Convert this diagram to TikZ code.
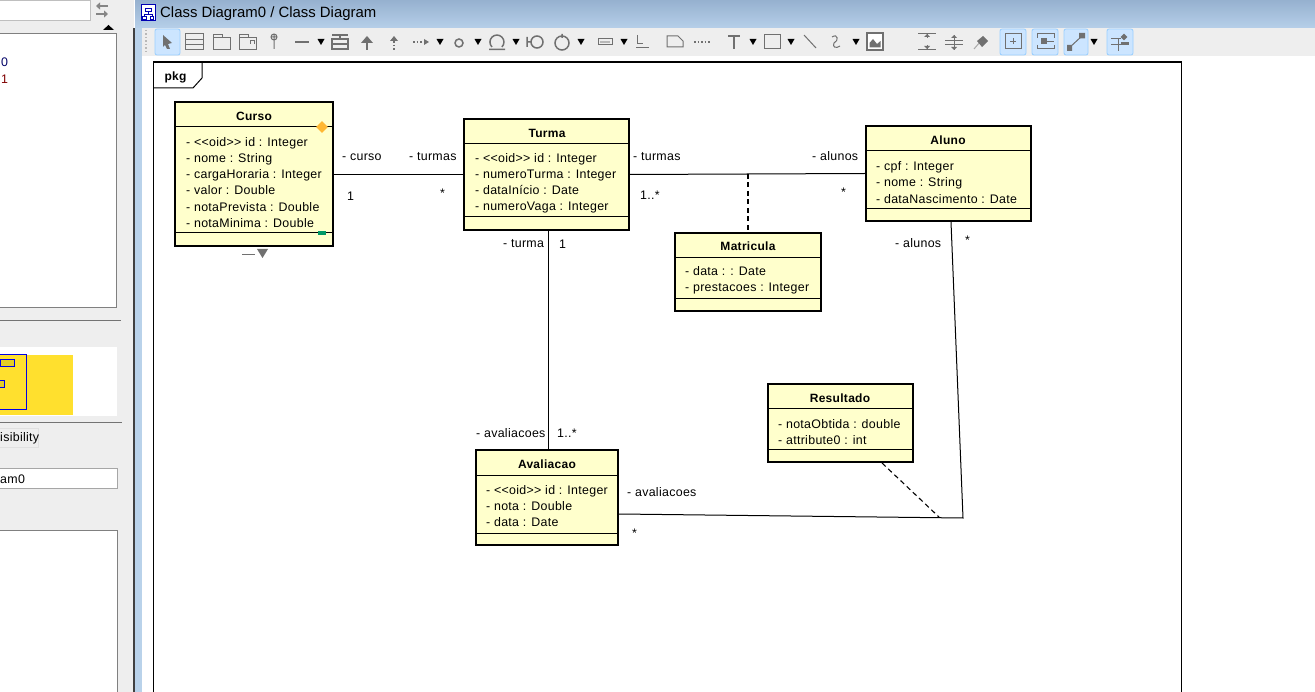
\documentclass[tikz,border=0pt]{standalone}
\usepackage{fontspec}
\setmainfont{Liberation Sans}[LetterSpace=2.5]
\newfontfamily\titlefont{Liberation Sans}
\usetikzlibrary{positioning,shapes.geometric,arrows.meta}
\definecolor{panelgray}{HTML}{EEEEEE}
\definecolor{boxyellow}{HTML}{FFFFCC}
\definecolor{iconblue}{HTML}{CCE5FF}
\definecolor{iconedge}{HTML}{99CFFF}
\definecolor{icongray}{HTML}{707070}
\definecolor{bartop}{HTML}{96B1CF}
\definecolor{barbottom}{HTML}{B6CFE9}
\definecolor{stripblue}{HTML}{B9D2EA}
\definecolor{navyellow}{HTML}{FFE02E}
\definecolor{cursomarkorange}{HTML}{FFB833}
\definecolor{cursomarkgreen}{HTML}{009966}
\tikzset{
    classbox/.style={draw,line width=2pt,fill=boxyellow,inner sep=0pt},
    classname/.style={font=\fontsize{12}{12}\selectfont\bfseries,inner sep=0pt},
    attrs/.style={font=\fontsize{12.4}{16.1}\selectfont,align=left,anchor=west,inner sep=0pt},
    rolelabel/.style={font=\fontsize{12.4}{12.4}\selectfont,anchor=west,inner sep=0pt},
    assoc/.style={line width=1pt},
    assocdash/.style={line width=1.1pt,dash pattern=on 5pt off 3.5pt},
    icon/.style={draw=icongray,line width=1pt},
    iconbtn/.style={draw=iconedge,fill=iconblue,rounded corners=2pt,line width=.8pt}
}
\begin{document}
\begin{tikzpicture}[x=1pt,y=-1pt]
    \useasboundingbox (0,0) rectangle (1315,692);
    % window
    \fill[white] (0,0) rectangle (1315,692);
    \fill[panelgray] (0,0) rectangle (134,692);
    \fill[panelgray] (142,28) rectangle (1315,56);
    \shade[top color=bartop,bottom color=barbottom] (135,0) rectangle (1315,28);
    \fill[stripblue] (135,28) rectangle (142,692);
    \fill[black!75] (133,28) rectangle (135,692);
    % left side
    \draw[black!25,fill=white] (-2,0) rectangle (90,20);
    \draw[black!50,fill=white] (-2,33) rectangle (116,307);
    \draw[black!55,line width=1pt] (0,321) -- (121,321);
    \draw[black!55,line width=1pt] (0,423) -- (122,423);
    \fill[white] (0,347) rectangle (117,416);
    \fill[navyellow] (0,355) rectangle (73,415);
    \draw[blue!90!black,line width=1pt] (-2,354.5) rectangle (26.5,410);
    \draw[blue!90!black,line width=1pt,fill=navyellow!80!olive] (0,360) rectangle (14,367);
    \draw[blue!90!black,line width=1pt,fill=navyellow!80!olive] (-2,381) rectangle (4,388);
    \draw[black!12,fill=panelgray] (-2,428) rectangle (38,447);
    \draw[black!35,line width=1pt,fill=white] (-2,468) rectangle (117,488);
    \draw[black!50,line width=1pt,fill=white] (-2,530) rectangle (117.5,694);
    \node[rolelabel,text=blue!40!black] (listzero) at (1,62) {0};
    \node[rolelabel,text=red!50!black] (listone) at (1,79) {1};
    \node[rolelabel] (tabname) at (0,438.5) {isibility};
    \node[rolelabel] (fieldname) at (0,479) {am0};
    \draw[draw=icongray!85,line width=2pt,-{Triangle[width=7pt,length=4pt]}] (108,6) -- (96,6);
    \draw[draw=icongray!85,line width=2pt,-{Triangle[width=7pt,length=4pt]}] (96,14) -- (108,14);
    \fill[black] (103,30) -- (108.5,25) -- (114,30) -- cycle;
    % title bar
    \draw[blue!70!black,line width=1pt,fill=white] (141,5) rectangle (155,21);
    \draw[blue!70!black,line width=.8pt] (145,8) rectangle (151,11) (148,11) -- (148,14) (144,14) -- (152,14) (144,14) -- (144,16) (152,14) -- (152,16) (142.5,16) rectangle (146,19) (150,16) rectangle (153.5,19);
    \node[font=\titlefont\fontsize{14.9}{14.9}\selectfont,anchor=west,inner sep=0pt] (wintitle) at (160,14) {Class Diagram0 / Class Diagram};
    % toolbar
    \draw[icongray!50,line width=1.5pt,dotted] (146,30) -- (146,54);
    \foreach \x/\w in {155/25,1000/26,1032/26,1064/24,1107/26}
        \draw[iconbtn] (\x,29) rectangle ++(\w,26);
    \fill[icongray] (163,35) -- (172,43) -- (168,44) -- (170,49) -- (167,49) -- (165,45) -- (163,47) -- cycle;
    \draw[icon] (185,34) rectangle (203,50) (185,39.5) -- (203,39.5) (185,44.5) -- (203,44.5);
    \foreach \x in {213,239}
        \draw[icon] (\x,38) rectangle ++(17.5,12) (\x,38) -- ++(0,-3) -- ++(9,0) -- ++(0,3);
    \draw[icon] (250,44) -- (250,41) -- (254,41) -- (254,44);
    \draw[icon] (274,37) circle (3) (274,40) -- (274,49) (271,37) -- (277,37) (274,34) -- (274,40);
    \draw[icon,line width=2pt] (295,42) -- (309,42);
    \draw[icon,line width=1.3pt] (332,35) -- (348,35) (340,35) -- (340,39) (332,39) rectangle (348,49) (332,44) -- (348,44);
    \fill[icongray] (361,43) -- (367,36) -- (373,43) -- cycle;
    \draw[icon,line width=1.6pt] (367,43) -- (367,50);
    \fill[icongray] (390,41) -- (394,36) -- (398,41) -- cycle;
    \draw[icon,line width=1.6pt,dotted] (394,41) -- (394,50);
    \draw[icon,line width=1.6pt,dotted] (413,42) -- (424,42);
    \fill[icongray] (424,39) -- (429,42) -- (424,45) -- cycle;
    \draw[icon,line width=1.5pt] (459,43) circle (4);
    \draw[icon,line width=1.5pt] (492,47) arc[start angle=135,end angle=405,radius=7] (489,49.5) -- (505,49.5);
    \draw[icon,line width=1.5pt] (527,37) -- (527,47) (527,42) -- (531,42) (537,42) circle (6);
    \draw[icon,line width=1.5pt] (562,43) circle (7) (562,34) -- (562,38);
    \draw[icon] (598,39) rectangle (612,45);
    \fill[icongray!50] (600,41) rectangle (610,43);
    \draw[icon] (637,35) -- (637,44) -- (643,44);
    \draw[icon,line width=1.6pt] (636,47.5) -- (649,47.5);
    \draw[icon] (667,36) -- (678,36) -- (683,41) -- (683,47) -- (667,47) -- cycle;
    \draw[icon,line width=1.5pt,dotted] (694,42) -- (710,42);
    \draw[icon,line width=2.5pt] (728,36) -- (740,36) (734,36) -- (734,49);
    \draw[icon] (764,35) rectangle (780,49);
    \draw[icon] (804,35) -- (816,48);
    \draw[icon] (832,37) .. controls (838,33) and (839,41) .. (834,43) .. controls (832,47) and (836,49) .. (840,46);
    \draw[icon,line width=1.5pt,fill=white] (867,33) rectangle (883,50);
    \fill[icongray] (869.5,47.5) -- (869.5,43) -- (873,39) -- (877,44) -- (880.5,41) -- (880.5,47.5) -- cycle;
    \draw[icon] (918,33.5) -- (936,33.5) (918,50) -- (936,50) (927,34) -- (927,38) (927,45) -- (927,50) (945,41) -- (963,41) (945,44.5) -- (963,44.5) (954,35) -- (954,50);
    \fill[icongray] (924,37) -- (930,37) -- (927,34) -- cycle (924,46) -- (930,46) -- (927,49) -- cycle (951,38) -- (957,38) -- (954,35) -- cycle (951,47) -- (957,47) -- (954,50) -- cycle;
    \draw[icon,icongray!60] (974,49) -- (980,42);
    \fill[icongray] (977,41) -- (983,36) -- (988,41) -- (982,47) -- cycle;
    \draw[icon] (1005,34) rectangle (1021,49) (1010,41.5) -- (1016,41.5) (1013,38.5) -- (1013,44.5);
    \draw[icon] (1037,38) -- (1037,34) -- (1054,34) -- (1054,38) (1037,45) -- (1037,49) -- (1054,49) -- (1054,45) (1047,41.5) -- (1054,41.5);
    \fill[icongray] (1041,38.5) rectangle (1047,44.5);
    \draw[icon] (1069,48) -- (1082,36);
    \fill[icongray] (1067,45) rectangle (1072,51) (1079,33) rectangle (1085,38.5);
    \draw[icon] (1111,39) -- (1121,39) (1111,45) -- (1121,45) (1118,39) -- (1118,51);
    \fill[icongray] (1121,42.5) rectangle (1129,45.5);
    \node[diamond,fill=icongray,minimum size=7pt,inner sep=0pt] (figdiamond) at (1124,37) {};
    \foreach \x in {321,440,478,516,581,624,753,791,856,1094}
        \fill[black] (\x-3.5,39) -- (\x+3.5,39) -- (\x,45) -- cycle;
    % package frame
    \draw[line width=1.2pt] (153.5,692) -- (153.5,62) -- (1181.5,62) -- (1181.5,692);
    \draw[line width=1pt] (153,88) -- (193,88) -- (202,78) -- (202,62);
    \node[classname] (pkgname) at (175.5,77) {pkg};
    % classes
    \node[classbox,minimum width=158pt,minimum height=144pt] (curso) at (254,174) {};
    \node[classbox,minimum width=165pt,minimum height=111pt] (turma) at (546.5,174.5) {};
    \node[classbox,minimum width=165pt,minimum height=95pt] (aluno) at (948.5,173.5) {};
    \node[classbox,minimum width=146pt,minimum height=78pt] (matricula) at (748,272) {};
    \node[classbox,minimum width=145pt,minimum height=78pt] (resultado) at (840.5,423) {};
    \node[classbox,minimum width=142pt,minimum height=95pt] (avaliacao) at (547,497.5) {};
    \foreach \top/\xa/\xb/\bot in {127/175/333/233,144/464/629/217,151/866/1031/209,258/675/821/299,409/768/913/450,475/476/618/533}
        \draw[line width=1pt] (\xa,\top) -- (\xb,\top) (\xa,\bot) -- (\xb,\bot);
    \node[classname] (cursoname) at (254,116) {Curso};
    \node[classname] (turmaname) at (547,133) {Turma};
    \node[classname] (alunoname) at (948,140) {Aluno};
    \node[classname] (matriculaname) at (748,246) {Matricula};
    \node[classname] (resultadoname) at (840,398) {Resultado};
    \node[classname] (avaliacaoname) at (547,464) {Avaliacao};
    \node[attrs] (cursoattrs) at (186,182.5) {- {<}{<}oid{>}{>} id : Integer\\- nome : String\\- cargaHoraria : Integer\\- valor : Double\\- notaPrevista : Double\\- notaMinima : Double};
    \node[attrs] (turmaattrs) at (475,183) {- {<}{<}oid{>}{>} id : Integer\\- numeroTurma : Integer\\- dataInício : Date\\- numeroVaga : Integer};
    \node[attrs] (alunoattrs) at (876,182.5) {- cpf : Integer\\- nome : String\\- dataNascimento : Date};
    \node[attrs] (matriculaattrs) at (685,280.5) {- data : : Date\\- prestacoes : Integer};
    \node[attrs] (resultadoattrs) at (778,432) {- notaObtida : double\\- attribute0 : int};
    \node[attrs] (avaliacaoattrs) at (486,506) {- {<}{<}oid{>}{>} id : Integer\\- nota : Double\\- data : Date};
    % marks on Curso
    \node[diamond,fill=cursomarkorange,minimum size=12pt,inner sep=0pt] (cursomark) at (322,127) {};
    \fill[cursomarkgreen] (318,231.5) rectangle (326,235.5);
    \draw[icon,line width=1.8pt] (242,254.5) -- (255,254.5);
    \fill[icongray] (257,249) -- (268,249) -- (262.5,258) -- cycle;
    % associations
    \coordinate (junction) at (963,518);
    \coordinate (splitpoint) at (939,517);
    \coordinate (assocmid) at (748,174);
    \draw[assoc] ([yshift=-.8pt]curso.east) -- ([yshift=-.3pt]turma.west);
    \draw[assoc] (turma.east) -- (aluno.west);
    \draw[assocdash] (assocmid) -- (matricula.north);
    \draw[assoc] ([xshift=1.5pt]turma.south) -- ([xshift=1pt]avaliacao.north);
    \draw[assoc] ([xshift=2.5pt]aluno.south) -- (junction) -- ([yshift=-16.5pt]avaliacao.east);
    \draw[assocdash] ([xshift=41.5pt]resultado.south) -- (splitpoint);
    % role labels
    \node[rolelabel] (cursorole) at (342,157) {- curso};
    \node[rolelabel] (turmasrole) at (409,157) {- turmas};
    \node[rolelabel] (cursomult) at (347,196) {1};
    \node[rolelabel] (turmasmult) at (440,193) {*};
    \node[rolelabel] (turmasroleb) at (633,157) {- turmas};
    \node[rolelabel] (alunosrole) at (812,156) {- alunos};
    \node[rolelabel] (turmasmultb) at (640,195) {1..*};
    \node[rolelabel] (alunosmult) at (841,192) {*};
    \node[rolelabel] (turmarole) at (503,244) {- turma};
    \node[rolelabel] (turmamult) at (559,244) {1};
    \node[rolelabel] (avaliacoesrole) at (476,433) {- avaliacoes};
    \node[rolelabel] (avaliacoesmult) at (557,433) {1..*};
    \node[rolelabel] (alunosroleb) at (895,243) {- alunos};
    \node[rolelabel] (alunosmultb) at (965,240) {*};
    \node[rolelabel] (avaliacoesroleb) at (627,492) {- avaliacoes};
    \node[rolelabel] (avaliacoesmultb) at (632,533) {*};
\end{tikzpicture}
\end{document}
